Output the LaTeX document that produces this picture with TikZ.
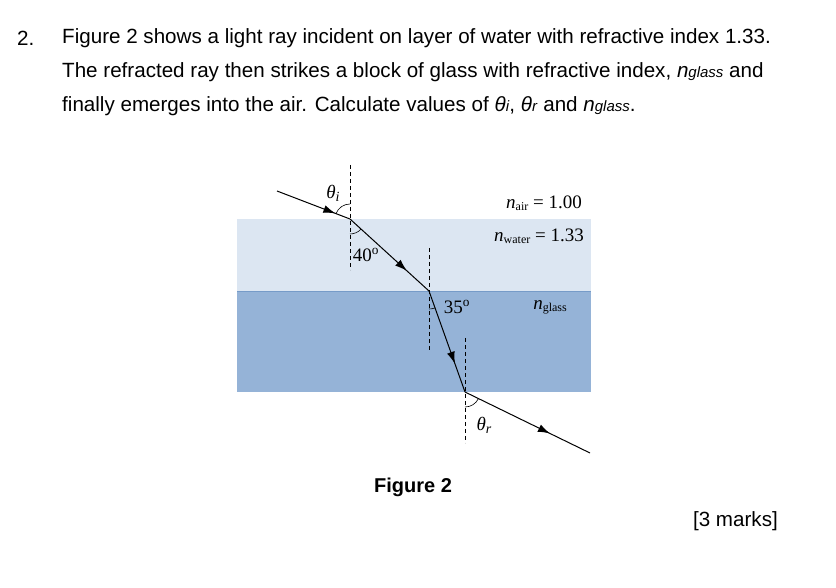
\documentclass[tikz,border=0pt]{standalone}
\usepackage{fontspec}
\setmainfont{Liberation Sans}
\newfontfamily\tms{Liberation Serif}
\usetikzlibrary{decorations.markings,arrows.meta}
\definecolor{waterc}{RGB}{220,230,242}
\definecolor{glassc}{RGB}{149,179,215}
\definecolor{edgec}{RGB}{118,155,200}
\tikzset{
  txt/.style={anchor=west,inner sep=0pt,font=\fontsize{20.6}{24}\selectfont},
  lbl/.style={inner sep=0pt,font=\tms\fontsize{19}{22}\selectfont},
  normal/.style={dashed,dash pattern=on 4pt off 3pt,line width=0.7pt},
  ray/.style={line width=1pt,postaction={decorate},decoration={markings,mark=at position #1 with {\arrow{Latex[length=12pt,width=8pt]}}}},
  ang/.style={line width=0.6pt}
}
\begin{document}
\begin{tikzpicture}[x=1pt,y=1pt]
\useasboundingbox (0,0) rectangle (836,587);
\node[txt] (num) at (17,549) {2.};
\node[txt] (l1) at (62,549) {Figure 2 shows a light ray incident on layer of water with refractive index 1.33.};
\node[txt] (l2) at (62,515) {The refracted ray then strikes a block of glass with refractive index, \textit{n}{\fontsize{15}{17}\selectfont\textit{glass}} and};
\node[txt] (l3) at (62,481) {finally emerges into the air. Calculate values of \textit{θ}{\fontsize{15}{17}\selectfont\textit{i}}, \textit{θ}{\fontsize{15}{17}\selectfont\textit{r}} and \textit{n}{\fontsize{15}{17}\selectfont\textit{glass}}.};
\fill[waterc] (237,296) rectangle (591,368);
\fill[glassc] (237,195) rectangle (591,296);
\draw[edgec,line width=0.8pt] (237,296) -- (591,296);
\coordinate (S) at (277,396);
\coordinate (A) at (350,368);
\coordinate (B) at (429,296);
\coordinate (C) at (465,195);
\coordinate (D) at (590,134);
\coordinate (a1) at (350,422); \coordinate (a2) at (350,317);
\coordinate (b1) at (429,339); \coordinate (b2) at (429,235);
\coordinate (c1) at (465,249); \coordinate (c2) at (465,144);
\draw[normal] (a1) -- (a2);
\draw[normal] (b1) -- (b2);
\draw[normal] (c1) -- (c2);
\draw[ray=0.8] (S) -- (A);
\draw[ray=0.72] (A) -- (B);
\draw[ray=0.72] (B) -- (C);
\draw[ray=0.68] (C) -- (D);
\draw[ang] ([shift=(90:15)]A) arc (90:159:15);
\draw[ang] ([shift=(270:15)]A) arc (270:318:15);
\draw[ang] ([shift=(270:18)]B) arc (270:290:18);
\draw[ang] ([shift=(270:15)]C) arc (270:334:15);
\node[lbl] (ti) at (333,394) {\textit{θ}{\fontsize{14}{16}\selectfont\raisebox{-3pt}{\textit{i}}}};
\node[lbl] (t40) at (366,332) {40\textsuperscript{o}};
\node[lbl] (t35) at (457,280) {35\textsuperscript{o}};
\node[lbl] (tr) at (484,162) {\textit{θ}{\fontsize{14}{16}\selectfont\raisebox{-3pt}{\textit{r}}}};
\node[lbl,anchor=east] (nair) at (582,384) {\textit{n}{\fontsize{12}{14}\selectfont\raisebox{-2pt}{air}} = 1.00};
\node[lbl,anchor=east] (nwat) at (584,351) {\textit{n}{\fontsize{12}{14}\selectfont\raisebox{-2pt}{water}} = 1.33};
\node[lbl] (ngl) at (550,280) {\textit{n}{\fontsize{12}{14}\selectfont\raisebox{-2pt}{glass}}};
\node[txt,anchor=center,font=\bfseries\fontsize{20}{24}\selectfont] (fig) at (413,100) {Figure 2};
\node[txt,anchor=east] (marks) at (778,66) {[3 marks]};
\end{tikzpicture}
\end{document}
